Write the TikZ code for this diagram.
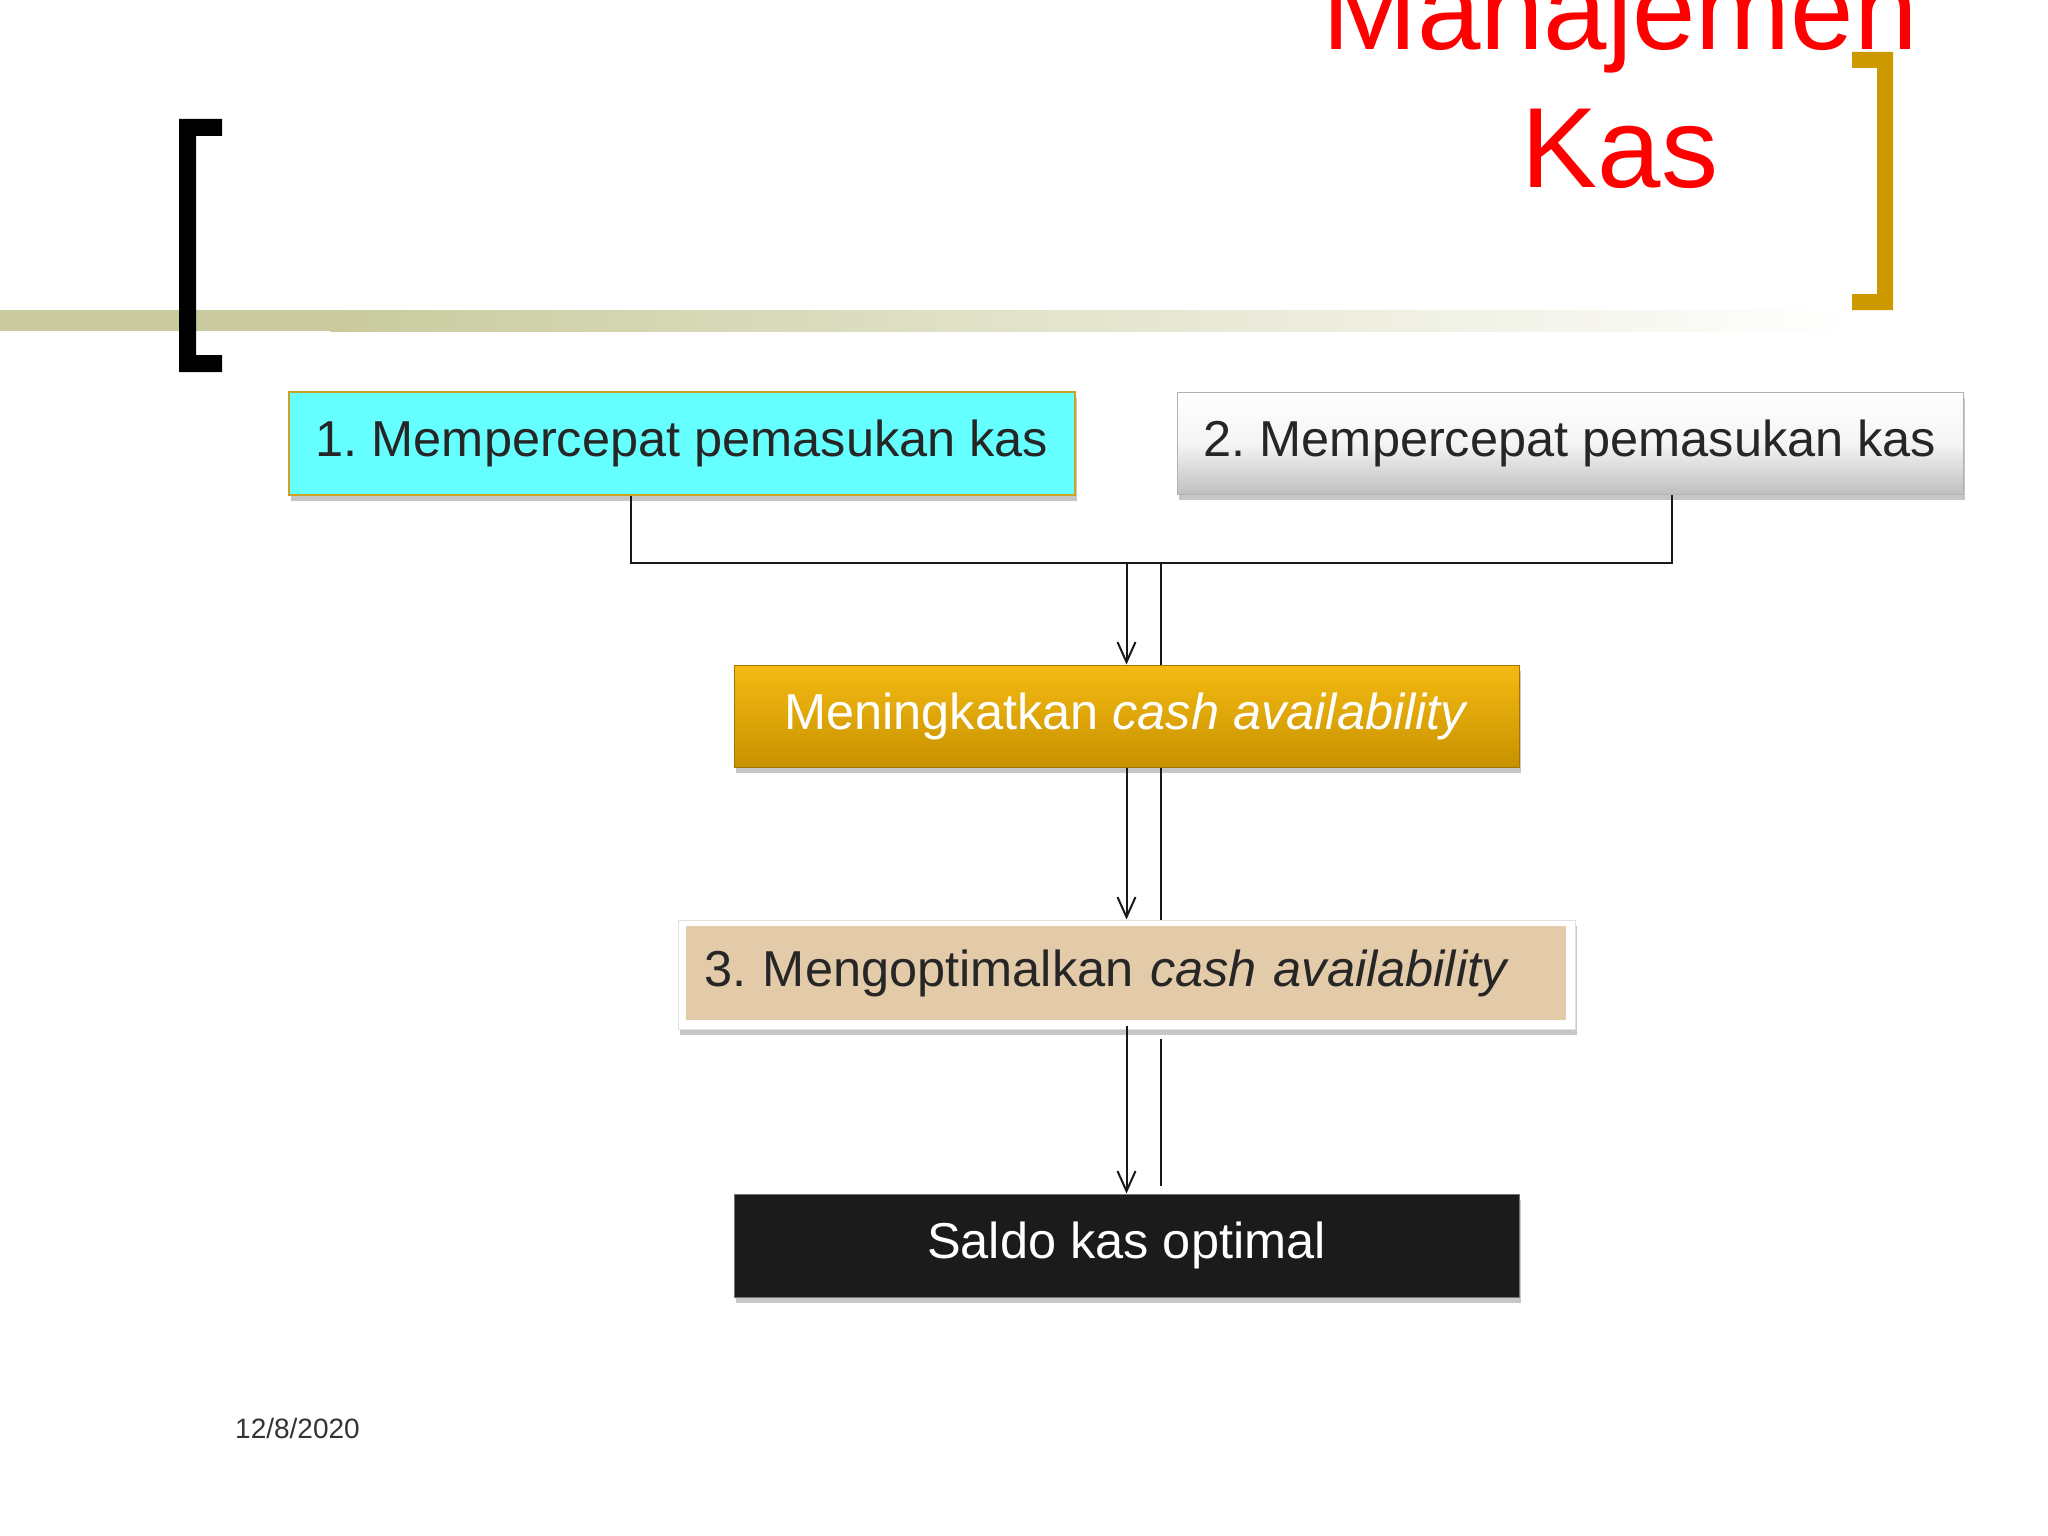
\documentclass[tikz,border=0pt]{standalone}
\usepackage{fontspec}
\setmainfont{Liberation Sans}
\usetikzlibrary{arrows.meta,shadows}
\frenchspacing
\definecolor{txt}{HTML}{262626}
\definecolor{gline}{HTML}{C9CB9E}
\definecolor{goldbr}{HTML}{CC9900}
\definecolor{cyanf}{HTML}{66FFFF}
\definecolor{cyanb}{HTML}{C9A227}
\definecolor{goldtop}{HTML}{F4BA12}
\definecolor{goldbot}{HTML}{C89200}
\definecolor{tanf}{HTML}{E3CAA9}
\definecolor{blk}{HTML}{1B1B1B}
\tikzset{
  boxfont/.style={font=\fontsize{50.5}{60}\selectfont},
  shad/.style={drop shadow={shadow xshift=2pt, shadow yshift=-6pt, fill=black, opacity=0.22}},
  basebox/.style={rectangle, minimum width=785pt, minimum height=102pt, inner sep=0pt, boxfont, shad},
  cyanbox/.style={basebox, fill=cyanf, draw=cyanb, line width=1.5pt, text=txt},
  whitebox/.style={basebox, top color=white, bottom color=black!25, middle color=black!4, draw=black!30, line width=1pt, text=txt},
  goldbox/.style={basebox, top color=goldtop, bottom color=goldbot, draw=goldbot!80!black, line width=1pt, text=white},
  frame4/.style={rectangle, minimum width=897pt, minimum height=109pt, inner sep=0pt, fill=white, draw=black!12, line width=1pt, shad},
  tanbox/.style={rectangle, minimum width=880pt, minimum height=94pt, fill=tanf, inner xsep=18pt, inner ysep=0pt, text width=844pt, align=left, boxfont, text=txt},
  blackbox/.style={basebox, fill=blk, draw=black!55, line width=1pt, text=white},
  conn/.style={draw=black!90, line width=2pt},
  arr/.style={conn, -{Straight Barb[length=20pt,width=18pt,line width=2pt]}},
}
\begin{document}
\begin{tikzpicture}[x=1pt,y=-1pt]
\useasboundingbox (0,0) rectangle (2048,1536);
\fill[white] (0,0) rectangle (2048,1536);
% decorative line
\fill[gline] (0,310) rectangle (330,331);
\shade[left color=gline, right color=white] (330,310) rectangle (1850,331);
% brackets
\fill[black] (222,119) -- (179,119) -- (179,372) -- (222,372) -- (222,355) -- (196,355) -- (196,136) -- (222,136) -- cycle;
\fill[goldbr] (1852,52) -- (1893,52) -- (1893,310) -- (1852,310) -- (1852,294) -- (1877,294) -- (1877,68) -- (1852,68) -- cycle;
% title
\node[text=red, font=\fontsize{114}{137}\selectfont, anchor=base, inner sep=0pt] (t1) at (1620,50) {Manajemen};
\node[text=red, font=\fontsize{114}{137}\selectfont, anchor=base, inner sep=0pt] (t2) at (1620,187) {Kas};
% boxes
\node[cyanbox, minimum width=786pt, minimum height=103pt] (b1) at (682,443.5) {1. Mempercepat pemasukan kas};
\node[whitebox, minimum width=786pt] (b2) at (1570,443) {2. Mempercepat pemasukan kas};
\node[goldbox] (b3) at (1126.5,716) {Meningkatkan \textit{cash availability}};
\node[frame4] (b4o) at (1126.5,974.5) {};
\node[tanbox] (b4) at (1126,973) {3. Mengoptimalkan \textit{cash availability}};
\node[blackbox, minimum height=103pt] (b5) at (1126.5,1245.5) {Saldo kas optimal};
% date
\node[anchor=base west, inner sep=0pt, text=black!80, font=\fontsize{28}{34}\selectfont] (date) at (235,1438) {12/8/2020};
% connectors
\coordinate (hub) at (1126.5,563);
\coordinate (b3r) at ([xshift=34pt]b3.north);
\coordinate (b3rs) at ([xshift=34pt]b3.south);
\coordinate (b4rs) at ([xshift=34pt,yshift=-9pt]b4o.south);
\coordinate (b5r) at ([xshift=34pt,yshift=8pt]b5.north);
\draw[conn] ([xshift=-51pt]b1.south) |- (hub) -| ([xshift=102pt]b2.south);
\draw[arr] (hub) -- (b3.north);
\draw[conn] (hub -| b3r) -- (b3r);
\draw[arr] (b3.south) -- (b4o.north);
\draw[conn] (b3rs) -- (b3rs |- b4o.north);
\draw[arr] ([yshift=4pt]b4o.south) -- (b5.north);
\draw[conn] (b4rs) -- (b5r);
\end{tikzpicture}
\end{document}
